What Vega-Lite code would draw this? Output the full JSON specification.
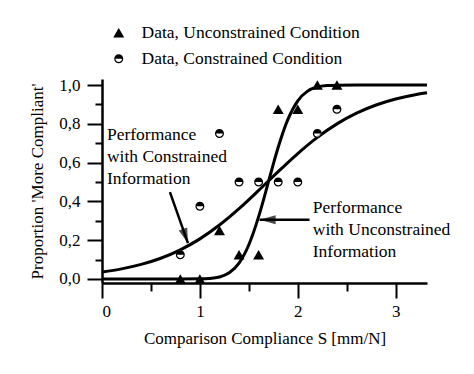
{
  "$schema": "https://vega.github.io/schema/vega-lite/v6.json",
  "width": 325,
  "height": 204,
  "autosize": "none",
  "padding": {"left": 102, "top": 79, "right": 47, "bottom": 91},
  "background": "white",
  "config": {
    "view": {"stroke": null},
    "font": "Liberation Serif",
    "axis": {
      "domainColor": "black", "domainWidth": 2.5, "tickColor": "black", "tickWidth": 2,
      "labelColor": "black", "titleColor": "black", "labelFont": "Liberation Serif", "titleFont": "Liberation Serif",
      "labelFontSize": 17, "titleFontSize": 17, "titleFontWeight": "normal", "grid": false
    }
  },
  "datasets": {
    "points": [
      {"series": "Data, Unconstrained Condition", "x": 0.8, "y": 0},
      {"series": "Data, Unconstrained Condition", "x": 1.0, "y": 0},
      {"series": "Data, Unconstrained Condition", "x": 1.2, "y": 0.25},
      {"series": "Data, Unconstrained Condition", "x": 1.4, "y": 0.125},
      {"series": "Data, Unconstrained Condition", "x": 1.6, "y": 0.125},
      {"series": "Data, Unconstrained Condition", "x": 1.8, "y": 0.875},
      {"series": "Data, Unconstrained Condition", "x": 2.0, "y": 0.875},
      {"series": "Data, Unconstrained Condition", "x": 2.2, "y": 1.0},
      {"series": "Data, Unconstrained Condition", "x": 2.4, "y": 1.0},
      {"series": "Data, Constrained Condition", "x": 0.8, "y": 0.125},
      {"series": "Data, Constrained Condition", "x": 1.0, "y": 0.375},
      {"series": "Data, Constrained Condition", "x": 1.2, "y": 0.75},
      {"series": "Data, Constrained Condition", "x": 1.4, "y": 0.5},
      {"series": "Data, Constrained Condition", "x": 1.6, "y": 0.5},
      {"series": "Data, Constrained Condition", "x": 1.8, "y": 0.5},
      {"series": "Data, Constrained Condition", "x": 2.0, "y": 0.5},
      {"series": "Data, Constrained Condition", "x": 2.2, "y": 0.75},
      {"series": "Data, Constrained Condition", "x": 2.4, "y": 0.875}
    ],
    "curves": [
      {"curve": "Constrained", "x": 0.0, "y": 0.0357},
      {"curve": "Constrained", "x": 0.2, "y": 0.0519},
      {"curve": "Constrained", "x": 0.4, "y": 0.0748},
      {"curve": "Constrained", "x": 0.6, "y": 0.1066},
      {"curve": "Constrained", "x": 0.8, "y": 0.1499},
      {"curve": "Constrained", "x": 1.0, "y": 0.2066},
      {"curve": "Constrained", "x": 1.2, "y": 0.2778},
      {"curve": "Constrained", "x": 1.4, "y": 0.3623},
      {"curve": "Constrained", "x": 1.6, "y": 0.4562},
      {"curve": "Constrained", "x": 1.8, "y": 0.5534},
      {"curve": "Constrained", "x": 2.0, "y": 0.6467},
      {"curve": "Constrained", "x": 2.2, "y": 0.73},
      {"curve": "Constrained", "x": 2.4, "y": 0.7997},
      {"curve": "Constrained", "x": 2.6, "y": 0.855},
      {"curve": "Constrained", "x": 2.8, "y": 0.897},
      {"curve": "Constrained", "x": 3.0, "y": 0.9279},
      {"curve": "Constrained", "x": 3.2, "y": 0.95},
      {"curve": "Constrained", "x": 3.32, "y": 0.96},
      {"curve": "Unconstrained", "x": 0.0, "y": 0.0},
      {"curve": "Unconstrained", "x": 0.8, "y": 0.0},
      {"curve": "Unconstrained", "x": 1.0, "y": 0.0006},
      {"curve": "Unconstrained", "x": 1.1, "y": 0.0026},
      {"curve": "Unconstrained", "x": 1.2, "y": 0.01},
      {"curve": "Unconstrained", "x": 1.3, "y": 0.0314},
      {"curve": "Unconstrained", "x": 1.4, "y": 0.0815},
      {"curve": "Unconstrained", "x": 1.5, "y": 0.1762},
      {"curve": "Unconstrained", "x": 1.6, "y": 0.321},
      {"curve": "Unconstrained", "x": 1.65, "y": 0.408},
      {"curve": "Unconstrained", "x": 1.7, "y": 0.5},
      {"curve": "Unconstrained", "x": 1.75, "y": 0.592},
      {"curve": "Unconstrained", "x": 1.8, "y": 0.679},
      {"curve": "Unconstrained", "x": 1.9, "y": 0.824},
      {"curve": "Unconstrained", "x": 2.0, "y": 0.9185},
      {"curve": "Unconstrained", "x": 2.1, "y": 0.9686},
      {"curve": "Unconstrained", "x": 2.2, "y": 0.99},
      {"curve": "Unconstrained", "x": 2.3, "y": 0.9974},
      {"curve": "Unconstrained", "x": 2.4, "y": 0.9994},
      {"curve": "Unconstrained", "x": 2.6, "y": 1.0},
      {"curve": "Unconstrained", "x": 3.32, "y": 1.0}
    ],
    "notes": [
      {"x": 0.05, "y": 0.716, "note": "Performance\nwith Constrained\nInformation"},
      {"x": 2.153, "y": 0.342, "note": "Performance\nwith Unconstrained\nInformation"}
    ],
    "arrows": [
      {"arrow": "left", "x": 0.694, "y": 0.448, "x2": 0.878, "y2": 0.185},
      {"arrow": "right", "x": 2.12, "y": 0.305, "x2": 1.61, "y2": 0.305}
    ]
  },
  "encoding": {
    "x": {
      "field": "x", "type": "quantitative",
      "scale": {"domain": [0, 3.32], "nice": false, "zero": false},
      "axis": {
        "title": "Comparison Compliance S [mm/N]",
        "values": [0, 0.5, 1, 1.5, 2, 2.5, 3],
        "tickSize": {"condition": {"test": "datum.value % 1 === 0", "value": 15}, "value": 8},
        "labelExpr": "datum.value % 1 === 0 ? format(datum.value, 'd') : ''",
        "labelPadding": 5,
        "titlePadding": 11
      }
    },
    "y": {
      "field": "y", "type": "quantitative",
      "scale": {"domain": [-0.021, 1.031], "nice": false, "zero": false},
      "axis": {
        "title": "Proportion 'More Compliant'",
        "values": [0, 0.1, 0.2, 0.3, 0.4, 0.5, 0.6, 0.7, 0.8, 0.9, 1.0],
        "tickSize": {"condition": {"test": "round(datum.value * 10) % 2 === 0", "value": 15}, "value": 7},
        "labelExpr": "round(datum.value * 10) % 2 === 0 ? replace(format(datum.value, '.1f'), '.', ',') : ''",
        "labelPadding": 7,
        "titlePadding": 12
      }
    }
  },
  "layer": [
    {
      "data": {"name": "curves"},
      "mark": {"type": "line", "color": "black", "strokeWidth": 3, "interpolate": "monotone"},
      "encoding": {"detail": {"field": "curve", "type": "nominal"}}
    },
    {
      "data": {"name": "arrows"},
      "mark": {"type": "rule", "color": "black", "strokeWidth": 2.5},
      "encoding": {
        "x2": {"field": "x2"},
        "y2": {"field": "y2"}
      }
    },
    {
      "data": {"name": "arrows"},
      "transform": [{"filter": "datum.arrow === 'left'"}],
      "mark": {"type": "point", "shape": "M0,0L-4.5,15L4.5,15Z", "size": 4, "filled": true, "color": "black", "angle": 160.6},
      "encoding": {
        "x": {"field": "x2", "type": "quantitative"},
        "y": {"field": "y2", "type": "quantitative"}
      }
    },
    {
      "data": {"name": "arrows"},
      "transform": [{"filter": "datum.arrow === 'right'"}],
      "mark": {"type": "point", "shape": "M0,0L-4.5,16L4.5,16Z", "size": 4, "filled": true, "color": "black", "angle": 270},
      "encoding": {
        "x": {"field": "x2", "type": "quantitative"},
        "y": {"field": "y2", "type": "quantitative"}
      }
    },
    {
      "data": {"name": "points"},
      "transform": [{"filter": "datum.series === 'Data, Constrained Condition'"}],
      "mark": {"type": "point", "shape": "circle", "size": 70, "filled": true, "color": "white"}
    },
    {
      "data": {"name": "points"},
      "mark": {"type": "point", "filled": true, "color": "black", "size": 121, "opacity": 1},
      "encoding": {
        "shape": {
          "field": "series", "type": "nominal",
          "scale": {
            "domain": ["Data, Unconstrained Condition", "Data, Constrained Condition"],
            "range": [
              "triangle-up",
              "M-0.82,0C-0.82,-0.453,-0.453,-0.82,0,-0.82C0.453,-0.82,0.82,-0.453,0.82,0ZM-0.82,0C-0.82,-0.453,-0.453,-0.82,0,-0.82C0.453,-0.82,0.82,-0.453,0.82,0C0.82,0.453,0.453,0.82,0,0.82C-0.453,0.82,-0.82,0.453,-0.82,0ZM-0.6,0C-0.6,0.331,-0.331,0.6,0,0.6C0.331,0.6,0.6,0.331,0.6,0C0.6,-0.331,0.331,-0.6,0,-0.6C-0.331,-0.6,-0.6,-0.331,-0.6,0Z"
            ]
          },
          "legend": {
            "orient": "none", "legendX": 8, "legendY": -55, "title": null,
            "labelFont": "Liberation Serif", "labelFontSize": 17.5, "labelColor": "black", "labelLimit": 0,
            "labelOffset": 14, "symbolSize": 121, "symbolFillColor": "black", "symbolStrokeWidth": 0,
            "symbolOpacity": 1, "rowPadding": 7, "padding": 0
          }
        }
      }
    },
    {
      "data": {"name": "notes"},
      "mark": {"type": "text", "align": "left", "baseline": "alphabetic", "fontSize": 17.5, "font": "Liberation Serif", "lineBreak": "\n", "lineHeight": 22, "color": "black"},
      "encoding": {"text": {"field": "note"}}
    }
  ]
}
